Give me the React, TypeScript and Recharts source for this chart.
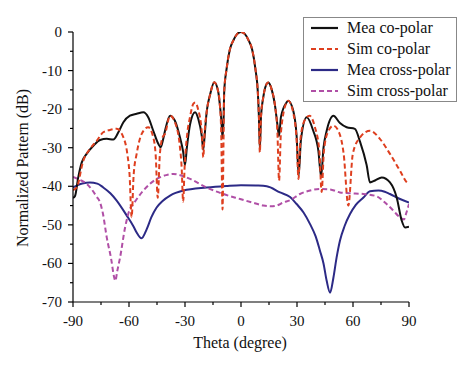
import React from 'react';
import { LineChart, Line, XAxis, YAxis, Legend } from 'recharts';

// ---- data ----
const meaCoTheta = [-90, -88.9, -87.2, -85.3, -82.7, -79.1, -75.5, -71.9, -68.4, -65.7, -63, -59.5, -55.9, -52.3, -49.7, -47, -44.3, -43, -41.8, -40.7, -38, -35.4, -32.7, -31, -30, -29, -27.3, -24.6, -22.9, -21, -20.2, -19.5, -18.4, -16.6, -14.3, -12.2, -11.3, -10.5, -9.9, -9.3, -9, -7.7, -6, -4, -2, 0, 2, 4, 6, 7.7, 9, 9.6, 10.1, 10.7, 11.9, 12.9, 14.6, 16.5, 18.2, 19.5, 20.4, 21.4, 24.5, 25.3, 28, 29.8, 30.9, 32.1, 35.2, 38.7, 41.5, 42.9, 44.2, 45.9, 49.5, 53, 56.6, 61, 63.8, 67.3, 69.1, 71.8, 75.4, 79.8, 83.4, 86.1, 87.9, 90];
const meaCoDb = [-43, -42.5, -37.7, -33.8, -31.6, -29.5, -28, -27.7, -27.9, -26, -23.4, -21.7, -21.2, -20.8, -22.1, -25.6, -29, -29.9, -28, -25.6, -21.7, -23, -27.3, -31, -34.5, -30, -24, -20.8, -22.5, -27, -30.5, -27, -20.8, -16.3, -13, -15.5, -19, -23, -27.5, -22, -15.5, -9.5, -4.6, -2.1, -0.5, 0, -0.5, -2.1, -4.6, -9.5, -15.5, -22, -30.5, -22, -17, -14.5, -13.1, -15, -19, -24, -27, -22, -18.2, -17.8, -20.4, -27, -37.2, -28, -22.1, -25.6, -31, -37.5, -30, -25.6, -21.7, -23.6, -24.7, -25.1, -28.5, -34.5, -39, -38.5, -37.7, -39, -42.9, -48.9, -50.7, -50.5];

const simCoTheta = [-90, -88, -84.5, -80.9, -77.3, -73.8, -70.2, -66.6, -63, -60.9, -59.7, -58.6, -57.5, -55.9, -53.2, -49.7, -47, -45.7, -44.6, -43.5, -42, -40.7, -38, -35.4, -32.7, -31.8, -31, -30.2, -28.8, -27.3, -25.5, -24.5, -22.9, -21, -20.2, -19.5, -18.4, -16.6, -14.3, -12.2, -11.3, -10.6, -9.9, -9.3, -9, -7.7, -6, -4, -2, 0, 2, 4, 6, 7.7, 9, 9.6, 10.1, 10.7, 11.9, 12.9, 14.6, 16.5, 18.2, 19.5, 20.4, 21.4, 24.5, 25.3, 28, 29.8, 30.8, 31.8, 34, 36.7, 39.5, 42, 43.2, 44.4, 46.5, 49.5, 52.5, 55, 57.5, 59.9, 63.8, 69.1, 74.4, 79.8, 85.2, 88.8, 90];
const simCoDb = [-41, -40.3, -33.4, -30.3, -28.2, -26, -25.4, -25.1, -27.3, -31.6, -37, -48, -37, -31.6, -26.4, -24.7, -27.3, -32, -43, -32, -27.3, -26.4, -21.7, -23.4, -29.9, -35, -44, -35, -26.4, -22, -18.6, -18.3, -20.2, -26, -32.5, -26, -20.8, -16.3, -13, -15.5, -19, -26, -46, -26, -15.5, -9.5, -4.6, -2.1, -0.5, 0, -0.5, -2.1, -4.6, -9.5, -15.5, -22, -31.2, -22, -17, -14.5, -13.1, -15, -19, -26, -38.5, -26, -18.2, -17.8, -21, -28, -38.1, -28, -23, -21.7, -24.5, -31, -41.5, -31, -26, -24.3, -26, -31.6, -45, -31.6, -27.3, -25.6, -27.7, -31.6, -36, -39, -39.5];

const meaCrossTheta = [-90, -85, -81, -77, -73.8, -70, -66.6, -61.2, -57.5, -55.9, -53.3, -50.5, -48, -45.2, -42, -38, -30.9, -18.4, -8, 0, 8, 13.8, 20.9, 26.3, 29.8, 33.5, 37, 40, 42.3, 44.2, 45.9, 47.7, 49.5, 51.2, 53, 55.5, 58.4, 61.5, 65.6, 69.1, 73.6, 77, 79.8, 85.2, 90];
const meaCrossDb = [-40.3, -39.3, -39, -39.3, -40.3, -41.8, -43.7, -47.6, -50.5, -52, -53.5, -51.1, -48, -45.5, -43.8, -42.4, -41.1, -40.3, -39.9, -39.7, -39.8, -40, -41.6, -42.8, -44.6, -46.8, -49.8, -53, -56.7, -60, -64.5, -67.6, -63.7, -58.5, -54.1, -50.3, -47.2, -44.8, -42.9, -41.3, -41.1, -41.4, -42, -43.3, -44.2];

const simCrossTheta = [-90, -86, -82.8, -80, -77.5, -75.5, -74, -71.9, -69.5, -68, -67.3, -66.3, -64.8, -62.1, -59.6, -57.7, -52.3, -45.2, -40, -36.3, -32, -27.3, -18.4, -9.5, -0.5, 6, 12, 16, 19.1, 22.7, 26.3, 31.6, 37, 42.3, 47.7, 53, 58, 65.6, 72.7, 77.1, 81.6, 85.2, 87.3, 88.5, 90];
const simCrossDb = [-37.6, -38.4, -39.3, -40.8, -42.6, -44.2, -47, -53.3, -59, -63.5, -64.5, -62, -58.5, -50.7, -46, -44.6, -41.1, -38.1, -37.1, -36.8, -37.2, -38.1, -40.3, -42, -43.3, -44.2, -45, -45.2, -45, -44.2, -43.6, -42, -41.1, -40.7, -40.8, -41.6, -41.8, -42, -42.6, -44.2, -46.3, -48.1, -48.6, -47, -44.6];

const xMajorTicks = [-90, -60, -30, 0, 30, 60, 90];
const xAllTicks = [-90, -75, -60, -45, -30, -15, 0, 15, 30, 45, 60, 75, 90];
const yMajorTicks = [0, -10, -20, -30, -40, -50, -60, -70];
const yAllTicks = [0, -5, -10, -15, -20, -25, -30, -35, -40, -45, -50, -55, -60, -65, -70];

const seriesNames = ['Mea co-polar', 'Sim co-polar', 'Mea cross-polar', 'Sim cross-polar'];

const zip = (t: number[], v: number[]) => t.map((x, i) => ({ x, y: v[i] }));
const meaCo = zip(meaCoTheta, meaCoDb);
const simCo = zip(simCoTheta, simCoDb);
const meaCross = zip(meaCrossTheta, meaCrossDb);
const simCross = zip(simCrossTheta, simCrossDb);

const FONT = '"Liberation Serif", "Times New Roman", serif';
const COLORS = ['#111111', '#de3f1f', '#2c2a86', '#b04fa6'];
const DASH = [undefined, '5 3', undefined, '5 3'];

function XTick(props: any) {
  const { x, y, payload } = props;
  const v = payload.value;
  const major = xMajorTicks.includes(v);
  return (
    <g>
      <line x1={x} x2={x} y1={y} y2={y + (major ? 5 : 3)} stroke="#000" strokeWidth={1.2} />
      {major && (
        <text x={x} y={y + 24} textAnchor="middle" fontFamily={FONT} fontSize={15} fill="#111">
          {v}
        </text>
      )}
    </g>
  );
}

function YTick(props: any) {
  const { x, y, payload } = props;
  const v = payload.value;
  const major = yMajorTicks.includes(v);
  return (
    <g>
      <line x1={x} x2={x - (major ? 5 : 3)} y1={y} y2={y} stroke="#000" strokeWidth={1.2} />
      {major && (
        <text x={x - 11} y={y + 5} textAnchor="end" fontFamily={FONT} fontSize={15} fill="#111">
          {v}
        </text>
      )}
    </g>
  );
}

function LegendBox() {
  return (
    <div
      style={{
        width: 152,
        height: 83,
        border: '1px solid #888',
        background: '#fff',
        boxSizing: 'content-box',
        fontFamily: FONT,
        fontSize: 16,
        color: '#111',
      }}
    >
      <svg width={152} height={83} style={{ display: 'block' }}>
        {seriesNames.map((n, i) => {
          const cy = 10 + i * 21;
          return (
            <g key={n}>
              <line x1={7} x2={34} y1={cy} y2={cy} stroke={COLORS[i]} strokeWidth={2.2} strokeDasharray={DASH[i]} />
              <text x={43} y={cy + 5} fontFamily={FONT} fontSize={16} fill="#111">
                {n}
              </text>
            </g>
          );
        })}
      </svg>
    </div>
  );
}

export default function App() {
  return (
    <div style={{ position: 'relative', width: 466, height: 362 }}>
      <LineChart width={466} height={362} margin={{ top: 24, right: 65, bottom: 0, left: 0 }}>
        <XAxis
          dataKey="x"
          type="number"
          domain={[-90, 90]}
          ticks={xAllTicks}
          interval={0}
          tickSize={0}
          tickMargin={0}
          tickLine={false}
          tick={<XTick />}
          height={68}
          axisLine={{ stroke: '#000', strokeWidth: 1.2 }}
          allowDataOverflow
        />
        <YAxis
          type="number"
          domain={[-70, 0]}
          ticks={yAllTicks}
          interval={0}
          tickSize={0}
          tickMargin={0}
          tickLine={false}
          tick={<YTick />}
          width={65}
          axisLine={{ stroke: '#000', strokeWidth: 1.2 }}
          allowDataOverflow
        />
        <Legend
          layout="vertical"
          verticalAlign="middle"
          align="center"
          wrapperStyle={{ position: 'absolute', left: 295, top: 9, width: 154, height: 85 }}
          content={() => <LegendBox />}
        />
        <Line data={meaCross} dataKey="y" name={seriesNames[2]} type="monotone" stroke={COLORS[2]} strokeWidth={2} dot={false} isAnimationActive={false} />
        <Line data={simCross} dataKey="y" name={seriesNames[3]} type="monotone" stroke={COLORS[3]} strokeWidth={2} strokeDasharray={DASH[3]} dot={false} isAnimationActive={false} />
        <Line data={meaCo} dataKey="y" name={seriesNames[0]} type="monotone" stroke={COLORS[0]} strokeWidth={2} dot={false} isAnimationActive={false} />
        <Line data={simCo} dataKey="y" name={seriesNames[1]} type="monotone" stroke={COLORS[1]} strokeWidth={2} strokeDasharray={DASH[1]} dot={false} isAnimationActive={false} />
      </LineChart>
      <div
        style={{
          position: 'absolute',
          left: 232,
          top: 335,
          transform: 'translate(-50%, -50%)',
          fontFamily: FONT,
          fontSize: 16,
          color: '#111',
          whiteSpace: 'nowrap',
        }}
      >
        Theta (degree)
      </div>
      <div
        style={{
          position: 'absolute',
          left: 15,
          top: 160,
          transform: 'translate(-50%, -50%) rotate(-90deg)',
          fontFamily: FONT,
          fontSize: 16,
          color: '#111',
          whiteSpace: 'nowrap',
        }}
      >
        Normalized Pattern (dB)
      </div>
    </div>
  );
}
